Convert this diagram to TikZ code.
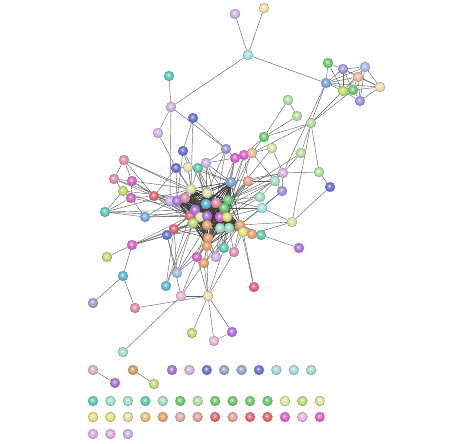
\documentclass[tikz,border=0pt]{standalone}
\pgfdeclarelayer{edges}
\pgfsetlayers{edges,main}
\definecolor{lav}{RGB}{200,170,230}
\definecolor{tan}{RGB}{235,220,160}
\definecolor{cyn}{RGB}{150,225,230}
\definecolor{grn}{RGB}{90,200,90}
\definecolor{lblu}{RGB}{150,180,230}
\definecolor{pch}{RGB}{240,180,140}
\definecolor{blu}{RGB}{100,160,225}
\definecolor{ygr}{RGB}{180,220,90}
\definecolor{bpu}{RGB}{140,140,225}
\definecolor{lgr}{RGB}{170,220,150}
\definecolor{dblu}{RGB}{90,100,220}
\definecolor{mag}{RGB}{220,80,200}
\definecolor{tea}{RGB}{70,200,170}
\definecolor{pnk}{RGB}{225,130,165}
\definecolor{rd}{RGB}{230,85,95}
\definecolor{pur}{RGB}{160,100,225}
\definecolor{yel}{RGB}{225,220,100}
\definecolor{org}{RGB}{235,150,85}
\definecolor{mnt}{RGB}{150,220,190}
\definecolor{sal}{RGB}{230,150,140}
\definecolor{ppk}{RGB}{225,165,185}
\definecolor{brn}{RGB}{205,150,80}
\definecolor{bgy}{RGB}{140,155,205}
\definecolor{ltl}{RGB}{160,215,215}
\definecolor{lyg}{RGB}{215,225,150}
\definecolor{otn}{RGB}{225,185,100}
\definecolor{psl}{RGB}{220,165,160}
\definecolor{lpk}{RGB}{230,175,210}
\definecolor{lpl}{RGB}{220,165,220}
\definecolor{cyb}{RGB}{80,175,215}
\colorlet{nc}{lav}
\pgfdeclareradialshading[nc]{glass}{\pgfpoint{-5bp}{7bp}}{color(0bp)=(nc!8!white); color(8bp)=(nc!70!white); color(20bp)=(nc); color(30bp)=(nc!70!black); color(50bp)=(nc!70!black)}
\tikzset{
  nd/.style={circle, inner sep=0pt, minimum size=10pt, draw=black!40, line width=0.3pt,
    /utils/exec={\colorlet{nc}{#1}}, shading=glass},
  ed/.style={draw=black!62, line width=0.42pt},
}
\begin{document}
\begin{tikzpicture}[x=1pt,y=-1pt]
\useasboundingbox (0,0) rectangle (474,444);
% top
\node[nd=lav] (a1) at (235,14) {};
\node[nd=tan] (a2) at (264,8) {};
\node[nd=cyn] (a3) at (248,55) {};
% right cluster
\node[nd=grn] (r1) at (328,63) {};
\node[nd=bpu] (r2) at (343,69) {};
\node[nd=lblu] (r3) at (365,67) {};
\node[nd=pch] (r4) at (358,77) {};
\node[nd=tan] (r5) at (380,87) {};
\node[nd=blu] (r6) at (326,83) {};
\node[nd=ygr] (r7) at (343,91) {};
\node[nd=grn] (r8) at (353,90) {};
\node[nd=bpu] (r9) at (360,101) {};
% mid right
\node[nd=lgr] (m1) at (288,100) {};
\node[nd=lgr] (m2) at (297,116) {};
\node[nd=lgr] (m3) at (311,123) {};
\node[nd=grn] (m4) at (264,137) {};
\node[nd=lyg] (m5) at (272,148) {};
\node[nd=lgr] (m6) at (301,153) {};
\node[nd=lgr] (m7) at (319,172) {};
\node[nd=dblu] (m8) at (330,187) {};
\node[nd=lpl] (m9) at (283,173) {};
\node[nd=bpu] (m10) at (282,191) {};
\node[nd=lyg] (m11) at (292,222) {};
\node[nd=pur] (m12) at (299,248) {};
% left / center
\node[nd=tea] (l1) at (169,76) {};
\node[nd=lav] (l2) at (171,107) {};
\node[nd=dblu] (l3) at (193,118) {};
\node[nd=lav] (l4) at (158,133) {};
\node[nd=dblu] (l5) at (183,151) {};
\node[nd=bpu] (l6) at (226,149) {};
\node[nd=mag] (l7) at (235,158) {};
\node[nd=mag] (l8) at (244,155) {};
\node[nd=pch] (l9) at (252,153) {};
\node[nd=dblu] (l10) at (176,168) {};
\node[nd=tan] (l11) at (188,167) {};
\node[nd=tea] (l12) at (198,168) {};
\node[nd=lav] (l13) at (206,163) {};
\node[nd=pnk] (l14) at (124,160) {};
\node[nd=pnk] (l15) at (114,179) {};
\node[nd=mag] (l16) at (132,181) {};
\node[nd=blu] (l17) at (231,182) {};
\node[nd=sal] (l18) at (248,181) {};
\node[nd=mnt] (l19) at (275,181) {};
\node[nd=ygr] (l20) at (123,191) {};
\node[nd=mag] (l21) at (131,198) {};
\node[nd=rd] (l22) at (154,196) {};
\node[nd=lav] (l23) at (170,201) {};
\node[nd=pur] (l24) at (177,201) {};
\node[nd=pnk] (l25) at (185,198) {};
\node[nd=lyg] (l26) at (191,189) {};
\node[nd=lyg] (l27) at (207,193) {};
\node[nd=cyb] (l28) at (206,204) {};
\node[nd=pnk] (l29) at (216,203) {};
\node[nd=grn] (l30) at (228,200) {};
\node[nd=grn] (l31) at (224,208) {};
\node[nd=mnt] (l32) at (260,197) {};
\node[nd=tea] (l33) at (105,212) {};
\node[nd=blu] (l34) at (145,217) {};
\node[nd=rd] (l35) at (190,216) {};
\node[nd=pur] (l36) at (195,210) {};
\node[nd=tan] (l37) at (200,217) {};
\node[nd=pur] (l38) at (207,216) {};
\node[nd=mag] (l39) at (220,217) {};
\node[nd=yel] (l40) at (227,217) {};
\node[nd=cyn] (l41) at (262,208) {};
\node[nd=ygr] (l42) at (193,223) {};
\node[nd=org] (l43) at (207,225) {};
\node[nd=mnt] (l44) at (220,228) {};
\node[nd=mnt] (l45) at (229,228) {};
\node[nd=org] (l46) at (240,225) {};
\node[nd=yel] (l47) at (243,232) {};
\node[nd=org] (l48) at (252,234) {};
\node[nd=tea] (l49) at (261,235) {};
\node[nd=rd] (l50) at (174,229) {};
\node[nd=dblu] (l51) at (167,235) {};
\node[nd=org] (l52) at (208,238) {};
\node[nd=org] (l53) at (207,246) {};
\node[nd=tea] (l54) at (224,248) {};
\node[nd=pnk] (l55) at (234,252) {};
\node[nd=mag] (l56) at (132,245) {};
\node[nd=mag] (l57) at (197,257) {};
\node[nd=org] (l58) at (204,263) {};
\node[nd=lav] (l59) at (216,257) {};
\node[nd=ygr] (l60) at (107,257) {};
\node[nd=cyb] (l61) at (123,276) {};
\node[nd=lblu] (l62) at (177,273) {};
\node[nd=cyb] (l63) at (166,286) {};
\node[nd=lpk] (l64) at (181,296) {};
\node[nd=tan] (l65) at (208,296) {};
\node[nd=rd] (l66) at (254,287) {};
\node[nd=bgy] (l67) at (93,303) {};
\node[nd=pnk] (l68) at (135,308) {};
\node[nd=ygr] (l69) at (192,333) {};
\node[nd=lpk] (l70) at (214,341) {};
\node[nd=pur] (l71) at (232,332) {};
\node[nd=mnt] (l72) at (123,352) {};
% unconnected and pairs
\node[nd=ppk] (p1) at (93,370) {};
\node[nd=pur] (p2) at (115,383) {};
\node[nd=brn] (p3) at (133,370) {};
\node[nd=ygr] (p4) at (154,384) {};
\foreach \c [count=\i] in {pur,lav,dblu,bgy,bgy,dblu,ltl,ltl,mnt}
  \node[nd=\c] (u\i) at ({172+17.4*(\i-1)},370) {};
\foreach \c [count=\i] in {tea,mnt,mnt,tea,mnt,grn,lgr,grn,grn,grn,grn,lyg,ygr,lyg}
  \node[nd=\c] (v\i) at ({93+17.45*(\i-1)},401) {};
\foreach \c [count=\i] in {yel,yel,lyg,otn,org,psl,sal,rd,sal,rd,rd,mag,lpk,mag}
  \node[nd=\c] (w\i) at ({93+17.45*(\i-1)},417) {};
\foreach \c [count=\i] in {lpl,lpl,lav}
  \node[nd=\c] (z\i) at ({93+17.45*(\i-1)},434) {};

\begin{pgfonlayer}{edges}
\foreach \u/\v in {a1/a3,a2/a3,a3/r6,a3/l2,
 r1/r6,r1/r2,r1/r7,r2/r3,r2/r4,r2/r6,r2/r7,r2/r8,r2/r5,r3/r4,r3/r5,r3/r9,r3/r7,r4/r5,r4/r6,r4/r7,r4/r8,r4/r9,r5/r9,r5/r8,r6/r7,r6/r8,r6/r3,r7/r8,r7/r9,r8/r9,r6/r5,
 r6/m3,r7/m3,r8/m3,r6/m9,
 m1/m4,m2/m4,m1/m2,m3/m4,m3/l9,m3/m6,m3/m7,m3/m11,m7/m8,m7/m9,m8/m11,m6/m9,m4/l9,m4/l8,m5/l9,m5/m9,m9/l18,m9/m10,m10/l19,m9/l17,m10/l41,m11/l41,m11/l46,m12/l49,m6/l30,m9/l30,m9/l40,m10/l46,m11/l48,m5/l31,
 l1/l2,l2/l4,l2/l6,l3/l6,l3/l5,l4/l10,l2/l23,l6/l7,l7/l8,l8/l9,l6/l13,l5/l11,l7/l17,l8/l18,l9/l30,l9/l19,l13/l7,l13/l17,l13/l12,l12/l26,l11/l26,l10/l24,l10/l26,l5/l27,
 l14/l15,l14/l16,l15/l16,l15/l20,l16/l21,l20/l21,l14/l22,l16/l22,l15/l22,l21/l22,l20/l33,l21/l33,l22/l23,l22/l35,l16/l26,l21/l34,l14/l26,l15/l24,l22/l36,l33/l34,l33/l26,l20/l35,
 l22/l28,l22/l42,l23/l26,l23/l35,l50/l35,l50/l42,l50/l43,l50/l52,l51/l42,l51/l36,l51/l38,l34/l35,l34/l36,l34/l38,l34/l26,l33/l35,l33/l36,
 l56/l35,l56/l42,l56/l50,l56/l43,l57/l43,l57/l52,l57/l53,l57/l44,l58/l52,l58/l53,l58/l45,l59/l52,l59/l53,l59/l44,l59/l45,
 l54/l44,l54/l45,l54/l46,l54/l40,l55/l45,l55/l46,l55/l47,l47/l44,l47/l46,l47/l40,l48/l46,l48/l40,l48/l45,l49/l46,l49/l47,l49/l40,l49/l48,
 l41/l40,l41/l30,l41/l31,l41/l46,l32/l30,l32/l31,l32/l40,l32/l19,l18/l30,l18/l31,l18/l39,l19/l31,l19/l30,l19/l18,
 l12/l27,l12/l28,l12/l38,l11/l36,l13/l27,l13/l29,l13/l30,l7/l29,l7/l39,l8/l31,l8/l40,l9/l40,l16/l35,l21/l36,l20/l25,l14/l29,
 l6/l29,l6/l27,l5/l24,l11/l10,l10/l22,l12/l17,l11/l17,l3/l26,
 l23/l37,l23/l38,l24/l47,l25/l46,l50/l40,l51/l44,l57/l40,l58/l46,l59/l40,l17/l54,l18/l44,l7/l44,l13/l43,l12/l45,l10/l38,
 l56/l60,l56/l61,l61/l67,l61/l68,l68/l65,l56/l51,l63/l50,l63/l42,l63/l35,l62/l42,l62/l43,l62/l52,l62/l57,l62/l50,l51/l62,l51/l64,
 l64/l65,l64/l57,l64/l72,l64/l58,l65/l69,l65/l70,l65/l71,l70/l71,l65/l57,l65/l53,l65/l58,l65/l54,l65/l55,l66/l46,l66/l47,
 p1/p2,p3/p4}
  \draw[ed] (\u) -- (\v);
\foreach \a [count=\i] in {l17,l24,l25,l26,l27,l28,l29,l30,l31,l35,l36,l37,l38,l39,l40,l42,l43,l44,l45,l46,l52,l53}
  \foreach \b [count=\j] in {l17,l24,l25,l26,l27,l28,l29,l30,l31,l35,l36,l37,l38,l39,l40,l42,l43,l44,l45,l46,l52,l53}
  {\ifnum\i<\j \draw[ed,draw=black!78,line width=0.5pt] (\a) -- (\b);\fi}
\end{pgfonlayer}
\end{tikzpicture}
\end{document}
